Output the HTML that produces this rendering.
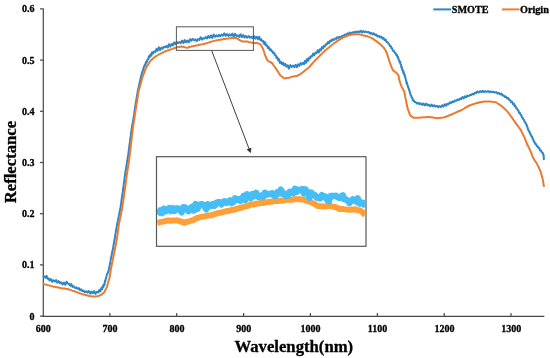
<!DOCTYPE html>
<html><head><meta charset="utf-8"><style>
html,body{margin:0;padding:0;background:#fff;}
body{width:550px;height:358px;overflow:hidden;}
svg{display:block;}
text{font-family:"Liberation Serif","Times New Roman",serif;font-weight:bold;fill:#000;stroke:#000;stroke-width:0.3px;}
</style></head><body>
<svg width="550" height="358" viewBox="0 0 550 358">
<defs><clipPath id="ic"><rect x="157" y="157" width="208.6" height="88.8"/></clipPath></defs>
<rect width="550" height="358" fill="#fff"/>
<g stroke="#474747" stroke-width="1.2" fill="none">
<line x1="43.3" y1="8.5" x2="43.3" y2="316.9"/>
<line x1="42.7" y1="316.3" x2="544.3" y2="316.3"/>
<line x1="40" y1="316.1" x2="43.3" y2="316.1"/><line x1="40" y1="264.9" x2="43.3" y2="264.9"/><line x1="40" y1="213.7" x2="43.3" y2="213.7"/><line x1="40" y1="162.5" x2="43.3" y2="162.5"/><line x1="40" y1="111.3" x2="43.3" y2="111.3"/><line x1="40" y1="60.1" x2="43.3" y2="60.1"/><line x1="40" y1="8.9" x2="43.3" y2="8.9"/>
<line x1="109.9" y1="313" x2="109.9" y2="316.3"/><line x1="176.7" y1="313" x2="176.7" y2="316.3"/><line x1="243.6" y1="313" x2="243.6" y2="316.3"/><line x1="310.4" y1="313" x2="310.4" y2="316.3"/><line x1="377.3" y1="313" x2="377.3" y2="316.3"/><line x1="444.2" y1="313" x2="444.2" y2="316.3"/><line x1="511.0" y1="313" x2="511.0" y2="316.3"/>
</g>
<g font-size="10"><text x="34.6" y="319.5" text-anchor="end">0</text><text x="34.6" y="268.3" text-anchor="end">0.1</text><text x="34.6" y="217.1" text-anchor="end">0.2</text><text x="34.6" y="165.9" text-anchor="end">0.3</text><text x="34.6" y="114.7" text-anchor="end">0.4</text><text x="34.6" y="63.5" text-anchor="end">0.5</text><text x="34.6" y="12.3" text-anchor="end">0.6</text><text x="43.2" y="331.5" text-anchor="middle">600</text><text x="110.1" y="331.5" text-anchor="middle">700</text><text x="176.9" y="331.5" text-anchor="middle">800</text><text x="243.8" y="331.5" text-anchor="middle">900</text><text x="310.6" y="331.5" text-anchor="middle">1000</text><text x="377.5" y="331.5" text-anchor="middle">1100</text><text x="444.4" y="331.5" text-anchor="middle">1200</text><text x="511.2" y="331.5" text-anchor="middle">1300</text></g>
<text x="0" y="0" font-size="16.7" transform="translate(16.2,203.3) rotate(-90)">Reflectance</text>
<text x="293.8" y="351.9" font-size="16.7" text-anchor="middle">Wavelength(nm)</text>
<path d="M43.0,277.0 L44.3,276.2 L45.6,277.8 L46.6,275.9 L47.5,278.8 L48.4,278.3 L49.6,280.5 L50.9,279.0 L52.2,281.7 L53.5,280.3 L54.8,281.5 L56.1,280.1 L57.4,282.7 L58.7,281.0 L60.0,283.1 L61.3,282.2 L62.6,284.4 L63.9,282.6 L65.3,284.8 L66.6,281.7 L67.9,283.8 L69.1,283.7 L70.2,285.8 L71.3,284.0 L72.5,286.9 L73.8,286.2 L75.0,288.0 L76.3,287.3 L77.5,288.8 L78.8,288.0 L80.0,290.3 L81.2,289.4 L82.4,291.2 L83.6,290.6 L84.9,292.3 L86.2,291.2 L87.5,292.6 L88.8,291.0 L90.2,293.6 L91.5,291.6 L92.9,293.3 L94.2,291.1 L95.5,293.9 L96.8,291.7 L98.2,292.5 L99.3,289.9 L100.3,291.5 L101.4,287.9 L102.2,289.2 L102.8,285.8 L103.4,287.1 L104.0,284.2 L104.6,284.6 L104.9,280.8 L105.3,281.6 L105.6,279.2 L106.0,278.8 L106.3,276.8 L106.6,276.0 L107.1,273.8 L107.6,273.6 L108.1,271.7 L108.5,271.1 L108.9,268.8 L109.2,268.6 L109.4,266.4 L109.7,265.8 L109.9,263.7 L110.2,263.4 L110.4,261.0 L110.6,260.5 L110.9,258.4 L111.2,257.7 L111.4,255.9 L111.7,255.4 L112.0,252.7 L112.2,252.6 L112.5,250.5 L112.8,249.8 L113.1,247.8 L113.3,247.7 L113.5,244.9 L113.8,244.7 L114.0,242.2 L114.2,241.8 L114.4,239.8 L114.7,239.6 L114.9,237.1 L115.1,236.6 L115.3,234.6 L115.6,234.0 L115.8,231.5 L116.0,231.1 L116.2,229.0 L116.5,228.9 L116.7,226.2 L116.9,226.2 L117.2,223.6 L117.4,223.4 L117.7,221.2 L118.0,220.6 L118.2,218.8 L118.5,218.3 L118.8,215.9 L119.0,215.2 L119.3,213.3 L119.6,212.7 L119.8,210.7 L120.1,210.0 L120.4,207.9 L120.6,207.5 L120.8,205.2 L121.0,204.8 L121.2,202.8 L121.4,202.0 L121.5,200.1 L121.7,199.5 L121.9,197.0 L122.1,197.0 L122.3,194.4 L122.5,194.3 L122.7,192.1 L122.9,191.7 L123.1,189.1 L123.2,188.5 L123.4,186.8 L123.6,185.9 L123.8,183.7 L123.9,183.3 L124.1,181.4 L124.3,180.8 L124.5,178.6 L124.7,177.8 L124.8,176.0 L125.0,175.4 L125.2,173.4 L125.4,172.6 L125.6,170.4 L125.9,170.0 L126.1,168.0 L126.3,167.3 L126.5,165.4 L126.7,164.6 L126.9,162.6 L127.1,161.9 L127.3,160.1 L127.6,159.7 L127.8,157.2 L128.0,156.5 L128.2,154.5 L128.4,154.3 L128.5,152.1 L128.7,151.1 L128.9,149.4 L129.1,148.8 L129.2,146.7 L129.4,146.1 L129.6,143.7 L129.8,143.3 L130.0,141.3 L130.1,141.0 L130.3,138.3 L130.5,138.0 L130.7,135.9 L130.9,135.4 L131.0,133.2 L131.2,132.7 L131.4,130.6 L131.6,130.0 L131.7,128.0 L132.0,127.1 L132.2,124.8 L132.4,124.9 L132.7,122.6 L132.9,122.2 L133.2,119.9 L133.4,119.6 L133.6,117.0 L133.8,116.6 L134.0,114.6 L134.2,113.7 L134.4,111.5 L134.6,111.1 L134.8,108.9 L135.0,109.0 L135.2,106.4 L135.4,105.8 L135.6,103.5 L135.9,103.6 L136.1,101.0 L136.3,100.6 L136.5,98.5 L136.7,97.9 L136.9,95.9 L137.1,95.4 L137.4,93.2 L137.6,92.5 L137.8,90.7 L138.1,90.1 L138.4,87.9 L138.7,87.3 L139.0,85.3 L139.3,85.0 L139.6,82.3 L139.9,81.9 L140.2,80.1 L140.5,79.3 L140.8,76.9 L141.1,77.0 L141.4,74.8 L141.8,74.0 L142.2,72.0 L142.6,71.9 L143.1,69.2 L143.5,69.0 L143.9,66.7 L144.3,66.6 L144.8,64.4 L145.3,65.4 L146.0,61.8 L146.7,62.6 L147.4,59.7 L148.1,59.5 L148.9,56.2 L149.6,57.3 L150.5,54.3 L151.3,55.7 L152.2,52.1 L153.2,53.5 L154.3,51.3 L155.5,51.9 L156.6,48.9 L157.7,50.7 L158.8,47.2 L160.1,50.1 L161.4,47.6 L162.6,48.7 L163.9,46.8 L165.2,47.3 L166.5,45.9 L167.8,47.5 L169.0,44.2 L170.3,46.6 L171.6,44.0 L172.9,45.4 L174.2,42.4 L175.4,44.1 L176.7,41.9 L178.0,43.3 L179.4,42.1 L180.7,43.1 L182.1,40.6 L183.4,43.0 L184.7,40.1 L186.0,42.3 L187.3,40.5 L188.7,42.3 L190.0,39.2 L191.3,40.8 L192.6,38.9 L194.0,40.4 L195.3,39.3 L196.7,41.3 L198.0,39.1 L199.3,39.9 L200.7,37.3 L202.0,39.6 L203.3,38.1 L204.6,38.6 L205.8,37.0 L207.1,38.4 L208.3,36.0 L209.6,37.8 L210.9,35.4 L212.3,37.9 L213.6,34.6 L215.0,36.8 L216.3,35.3 L217.6,36.5 L219.0,34.9 L220.3,36.3 L221.6,34.6 L223.0,35.6 L224.3,33.3 L225.7,35.8 L227.0,34.0 L228.4,36.0 L229.7,34.4 L231.1,35.6 L232.4,33.5 L233.8,37.1 L235.1,33.7 L236.5,36.1 L237.8,35.2 L239.2,37.0 L240.5,34.2 L241.8,37.1 L243.2,35.0 L244.5,37.5 L245.9,35.9 L247.2,37.6 L248.6,36.1 L249.9,37.6 L251.2,36.7 L252.6,38.1 L253.9,35.8 L255.2,38.6 L256.6,36.7 L257.9,39.3 L259.2,36.7 L260.3,40.0 L261.3,39.4 L262.4,41.6 L263.5,41.1 L264.3,44.3 L265.2,42.3 L266.0,45.6 L266.9,45.2 L267.8,48.0 L268.7,46.9 L269.7,49.9 L270.6,49.2 L271.6,51.2 L272.5,51.2 L273.3,53.3 L274.2,52.9 L275.1,55.4 L275.9,55.5 L276.7,58.2 L277.5,57.5 L278.3,60.6 L279.1,59.4 L279.9,63.0 L280.8,61.8 L281.9,64.1 L282.9,62.6 L284.0,65.4 L285.2,63.8 L286.4,66.6 L287.7,65.2 L288.9,68.6 L290.3,65.1 L291.6,67.0 L292.9,65.6 L294.3,67.2 L295.6,64.8 L296.9,67.2 L298.1,64.4 L299.3,65.9 L300.5,63.1 L301.7,64.5 L302.9,62.7 L304.0,64.3 L305.2,60.6 L306.2,62.8 L307.3,58.8 L308.3,60.8 L309.4,57.4 L310.3,58.2 L311.3,55.9 L312.3,56.3 L313.2,53.5 L314.3,55.1 L315.4,52.7 L316.6,53.1 L317.7,50.2 L318.8,52.5 L319.9,49.2 L320.9,50.4 L322.0,47.0 L323.0,48.5 L323.9,45.9 L324.9,46.5 L325.9,44.2 L326.9,44.4 L328.0,42.0 L329.1,43.2 L330.2,40.5 L331.3,41.3 L332.4,39.3 L333.7,40.1 L334.9,38.5 L336.2,38.9 L337.4,37.2 L338.7,37.9 L339.9,36.6 L341.2,37.1 L342.4,35.7 L343.7,35.8 L345.0,34.5 L346.2,35.0 L347.5,33.4 L348.7,34.0 L350.0,32.5 L351.3,33.5 L352.6,32.2 L354.0,32.8 L355.3,31.6 L356.6,32.3 L358.0,31.4 L359.3,32.3 L360.7,30.7 L362.0,32.4 L363.4,31.1 L364.7,32.2 L366.0,31.6 L367.4,32.3 L368.7,31.9 L370.0,33.7 L371.3,32.9 L372.5,34.4 L373.8,33.3 L375.0,35.0 L376.3,34.5 L377.5,36.5 L378.8,35.8 L380.0,37.4 L381.2,36.6 L382.4,38.6 L383.5,37.9 L384.7,40.3 L385.6,39.5 L386.6,41.9 L387.5,42.0 L388.5,43.6 L389.2,44.0 L390.0,46.1 L390.7,45.9 L391.4,48.1 L392.1,48.3 L392.8,50.8 L393.7,50.7 L394.6,52.7 L395.4,52.9 L396.3,55.0 L397.1,55.0 L397.6,57.5 L398.1,57.0 L398.6,59.7 L399.1,60.0 L399.6,62.5 L400.1,61.7 L400.6,64.4 L401.0,64.5 L401.4,67.6 L401.9,67.1 L402.3,70.0 L402.8,69.9 L403.2,72.8 L403.7,71.8 L404.2,74.8 L404.7,74.6 L405.1,77.4 L405.5,77.7 L405.8,79.9 L406.1,80.4 L406.5,83.1 L406.8,82.2 L407.2,84.9 L407.7,85.2 L408.2,87.7 L408.7,88.1 L409.1,90.1 L409.5,90.5 L409.9,93.1 L410.3,93.2 L410.7,95.2 L411.1,95.6 L411.7,97.6 L412.3,97.8 L412.9,100.5 L413.5,100.0 L414.6,102.1 L415.7,102.1 L417.0,103.6 L418.3,102.8 L419.6,104.2 L420.9,103.4 L422.2,104.9 L423.5,103.5 L424.9,105.5 L426.2,103.6 L427.6,105.5 L428.9,104.5 L430.2,106.3 L431.6,104.6 L432.9,106.4 L434.2,105.4 L435.6,106.5 L436.9,105.8 L438.3,107.2 L439.6,106.0 L440.9,107.1 L442.2,105.2 L443.5,106.6 L444.8,104.2 L446.1,105.7 L447.3,103.7 L448.6,104.2 L449.8,102.4 L451.1,103.0 L452.4,101.5 L453.6,102.1 L454.9,100.5 L456.1,100.9 L457.4,99.5 L458.6,100.2 L459.9,98.6 L461.1,99.1 L462.4,97.1 L463.6,98.4 L464.9,96.4 L466.1,97.3 L467.4,95.6 L468.7,96.1 L470.0,94.9 L471.2,95.0 L472.5,93.7 L473.7,94.5 L475.0,92.5 L476.2,93.2 L477.5,91.4 L478.8,92.5 L480.2,91.1 L481.5,92.1 L482.8,90.8 L484.2,92.3 L485.5,91.2 L486.9,91.8 L488.2,91.1 L489.6,92.2 L490.9,91.5 L492.3,92.2 L493.6,91.7 L494.9,92.6 L496.3,92.1 L497.5,93.7 L498.8,92.8 L500.1,94.5 L501.4,93.5 L502.5,95.5 L503.7,95.2 L504.8,97.0 L506.0,96.5 L507.1,98.4 L508.2,98.0 L509.1,99.9 L510.1,99.9 L511.1,102.0 L512.0,101.6 L513.0,104.1 L513.9,103.6 L514.7,106.1 L515.4,105.8 L516.2,108.2 L516.9,108.4 L517.7,110.2 L518.4,110.4 L519.1,113.0 L519.9,112.8 L520.6,114.7 L521.3,114.9 L521.9,117.3 L522.6,117.5 L523.3,119.4 L524.0,119.8 L524.6,122.1 L525.3,122.2 L526.0,124.2 L526.6,124.4 L527.0,126.5 L527.5,127.1 L528.0,129.7 L528.4,129.5 L529.1,131.7 L529.7,131.9 L530.3,134.2 L530.9,134.6 L531.5,136.4 L532.1,136.5 L532.7,138.8 L533.3,139.5 L533.9,141.7 L534.5,141.7 L535.1,143.7 L535.9,143.9 L536.8,146.1 L537.6,146.2 L538.5,148.2 L539.3,148.0 L540.1,150.4 L541.0,150.4 L541.8,152.4 L542.6,152.6 L543.3,154.6 L543.6,155.1 L543.7,157.4 L543.8,157.3 L543.9,159.7 L544.0,160.1" fill="none" stroke="#2E86C6" stroke-width="2" stroke-linejoin="round"/>
<path d="M43.0,283.9 L44.9,284.4 L46.9,284.9 L48.8,285.4 L50.7,285.9 L52.7,286.4 L54.6,286.8 L56.6,287.2 L58.6,287.6 L60.5,288.0 L62.5,288.4 L64.5,288.6 L66.5,288.9 L68.4,289.3 L70.3,289.9 L72.2,290.6 L74.1,291.2 L75.9,291.9 L77.8,292.6 L79.7,293.2 L81.6,293.9 L83.5,294.5 L85.5,295.0 L87.4,295.5 L89.3,296.0 L91.3,296.3 L93.3,296.4 L95.3,296.5 L97.3,296.2 L99.2,295.7 L101.0,294.9 L102.6,293.7 L104.1,292.4 L105.1,290.6 L106.0,288.9 L106.9,287.1 L107.4,285.2 L108.0,283.2 L108.5,281.3 L109.1,279.4 L109.6,277.5 L109.9,275.5 L110.2,273.5 L110.5,271.5 L110.8,269.6 L111.2,267.6 L111.6,265.6 L112.0,263.7 L112.4,261.7 L112.8,259.8 L113.2,257.8 L113.6,255.8 L114.0,253.9 L114.4,251.9 L114.8,250.0 L115.2,248.0 L115.6,246.0 L115.9,244.1 L116.3,242.1 L116.6,240.1 L117.0,238.2 L117.3,236.2 L117.6,234.2 L117.8,232.2 L118.1,230.2 L118.4,228.3 L118.6,226.3 L118.9,224.3 L119.3,222.3 L119.7,220.4 L120.1,218.4 L120.5,216.5 L120.9,214.5 L121.3,212.5 L121.7,210.6 L122.1,208.6 L122.4,206.6 L122.7,204.7 L123.0,202.7 L123.3,200.7 L123.6,198.7 L123.9,196.7 L124.1,194.8 L124.4,192.8 L124.7,190.8 L125.0,188.8 L125.2,186.8 L125.5,184.9 L125.8,182.9 L126.0,180.9 L126.3,178.9 L126.5,176.9 L126.8,174.9 L127.1,173.0 L127.4,171.0 L127.7,169.0 L128.0,167.0 L128.3,165.1 L128.6,163.1 L128.9,161.1 L129.2,159.1 L129.5,157.1 L129.7,155.2 L130.0,153.2 L130.2,151.2 L130.4,149.2 L130.7,147.2 L130.9,145.2 L131.1,143.2 L131.3,141.3 L131.6,139.3 L131.8,137.3 L132.0,135.3 L132.3,133.3 L132.5,131.3 L132.7,129.3 L133.0,127.4 L133.3,125.4 L133.6,123.4 L133.9,121.4 L134.2,119.4 L134.5,117.5 L134.8,115.5 L135.1,113.5 L135.4,111.5 L135.7,109.6 L136.0,107.6 L136.3,105.6 L136.6,103.6 L137.0,101.7 L137.3,99.7 L137.6,97.7 L137.9,95.7 L138.2,93.8 L138.5,91.8 L139.0,89.8 L139.5,87.9 L140.0,86.0 L140.6,84.0 L141.1,82.1 L141.6,80.2 L142.1,78.2 L142.7,76.3 L143.4,74.5 L144.2,72.6 L144.9,70.8 L145.6,68.9 L146.5,67.1 L147.5,65.4 L148.6,63.7 L149.7,62.0 L150.8,60.3 L152.3,59.1 L153.8,57.8 L155.4,56.6 L157.1,55.5 L158.8,54.5 L160.6,53.6 L162.4,52.7 L164.2,51.8 L166.0,51.0 L167.9,50.4 L169.8,49.7 L171.7,49.1 L173.6,48.4 L175.5,47.8 L177.4,47.3 L179.4,46.9 L181.4,46.5 L183.3,46.8 L185.2,47.4 L187.1,47.9 L189.0,47.2 L190.9,46.6 L192.9,46.2 L194.8,45.8 L196.8,45.4 L198.7,45.0 L200.7,44.6 L202.7,44.2 L204.6,43.7 L206.5,43.2 L208.4,42.6 L210.3,42.0 L212.3,41.4 L214.2,40.9 L216.1,40.4 L218.1,40.1 L220.1,39.7 L222.0,39.4 L224.0,39.1 L226.0,38.8 L228.0,38.6 L230.0,38.3 L231.9,38.1 L233.9,38.0 L235.9,37.9 L237.7,38.8 L239.3,39.9 L241.0,41.0 L242.9,41.5 L244.9,41.5 L246.9,41.6 L248.8,42.0 L250.8,42.4 L252.7,42.7 L254.7,42.9 L256.7,42.9 L258.6,43.5 L260.4,44.3 L261.5,45.9 L262.4,47.7 L263.3,49.5 L263.9,51.4 L264.5,53.3 L265.1,55.2 L265.9,57.0 L266.7,58.9 L267.5,60.7 L269.2,61.6 L271.0,62.4 L272.5,63.6 L273.6,65.3 L274.8,66.9 L275.9,68.5 L277.0,70.2 L278.1,71.9 L279.1,73.6 L280.2,75.3 L281.8,76.5 L283.3,77.8 L285.0,78.5 L287.0,78.1 L289.0,77.7 L290.9,77.1 L292.8,76.6 L294.8,76.3 L296.8,76.1 L298.5,75.1 L300.2,74.1 L301.9,73.0 L303.5,71.7 L305.0,70.5 L306.6,69.3 L308.1,68.0 L309.7,66.7 L310.9,65.2 L312.2,63.6 L313.5,62.1 L314.9,60.7 L316.3,59.3 L317.7,57.9 L319.2,56.4 L320.6,55.0 L322.0,53.6 L323.4,52.2 L324.9,50.8 L326.3,49.5 L327.9,48.2 L329.5,47.0 L331.0,45.8 L332.6,44.5 L334.2,43.3 L335.8,42.1 L337.4,40.9 L339.1,39.9 L340.8,38.9 L342.6,37.8 L344.4,37.0 L346.2,36.2 L348.1,35.5 L350.0,34.9 L352.0,34.6 L353.9,34.4 L355.9,34.3 L357.9,34.3 L359.9,34.4 L361.9,35.0 L363.8,35.5 L365.7,35.9 L367.7,36.3 L369.5,37.1 L371.4,37.9 L373.1,38.9 L374.7,40.1 L376.4,41.2 L377.9,42.4 L379.5,43.7 L381.0,45.0 L382.4,46.4 L383.8,47.8 L385.0,49.4 L385.9,51.2 L386.8,53.0 L387.4,54.9 L388.0,56.8 L388.6,58.7 L389.1,60.6 L389.8,62.5 L390.5,64.4 L391.3,66.3 L392.0,68.1 L392.8,70.0 L394.2,71.3 L395.8,72.4 L397.3,73.9 L398.5,75.4 L398.8,77.3 L399.1,79.3 L399.7,81.2 L400.3,83.1 L401.0,85.0 L401.7,86.9 L402.7,88.6 L403.6,90.4 L404.4,92.2 L404.8,94.2 L405.1,96.2 L405.5,98.1 L405.9,100.1 L406.3,102.0 L406.7,104.0 L407.1,106.0 L407.5,107.9 L408.1,109.8 L408.8,111.7 L409.5,113.6 L410.2,115.4 L411.8,116.6 L413.5,117.8 L415.4,117.8 L417.4,117.8 L419.4,117.7 L421.4,117.5 L423.4,117.3 L425.4,117.2 L427.4,117.0 L429.4,117.1 L431.4,117.3 L433.4,117.6 L435.3,118.1 L437.3,118.2 L439.3,117.9 L441.2,117.7 L443.2,117.5 L445.2,117.0 L447.0,116.3 L448.9,115.5 L450.7,114.8 L452.6,114.0 L454.4,113.2 L456.2,112.3 L458.0,111.5 L459.9,110.8 L461.7,110.0 L463.4,109.0 L465.1,107.9 L466.9,106.9 L468.6,106.0 L470.4,105.1 L472.3,104.5 L474.2,103.9 L476.2,103.3 L478.1,102.8 L480.0,102.3 L482.0,101.9 L483.9,101.5 L485.9,101.5 L487.9,101.5 L489.9,101.5 L491.9,101.7 L493.9,101.9 L495.9,102.2 L497.5,103.3 L499.2,104.4 L500.9,105.5 L502.4,106.7 L503.9,108.1 L505.3,109.5 L506.7,110.9 L508.1,112.4 L509.3,114.0 L510.4,115.6 L511.6,117.2 L512.8,118.9 L513.9,120.5 L515.1,122.1 L516.3,123.8 L517.4,125.4 L518.6,127.0 L519.7,128.7 L520.9,130.3 L521.8,132.1 L522.7,133.8 L523.6,135.6 L524.5,137.4 L525.2,139.3 L525.9,141.2 L526.6,143.0 L527.4,144.8 L528.3,146.6 L529.2,148.4 L530.1,150.2 L530.9,152.1 L531.6,153.9 L532.3,155.8 L533.1,157.6 L534.0,159.4 L535.1,161.0 L536.3,162.7 L537.3,164.4 L538.1,166.2 L539.0,168.0 L539.9,169.8 L540.6,171.7 L541.1,173.6 L541.7,175.5 L542.3,177.4 L542.7,179.4 L543.1,181.4 L543.4,183.3 L543.7,185.3 L544.0,186.9" fill="none" stroke="#EA7A2F" stroke-width="2" stroke-linejoin="round"/>
<rect x="176.4" y="26.8" width="77" height="23.6" fill="none" stroke="#595959" stroke-width="1"/>
<line x1="211.6" y1="50.4" x2="249" y2="148.7" stroke="#404040" stroke-width="1"/>
<polygon points="250.5,152.6 247.1,149.6 251,148.1" fill="#262626" stroke="#262626" stroke-width="0.6"/>
<rect x="156.5" y="156.7" width="209.5" height="89.6" fill="#fff" stroke="#595959" stroke-width="1.2"/>
<path d="M157.2,223.0 L159.2,222.4 L161.1,221.9 L163.1,221.6 L165.0,221.1 L167.0,220.6 L169.0,220.6 L170.9,220.7 L172.9,220.5 L174.9,220.6 L176.9,220.3 L178.9,221.0 L180.8,221.5 L182.6,222.1 L184.5,222.8 L186.3,222.0 L188.2,221.7 L190.1,221.0 L192.0,220.4 L193.9,219.8 L195.7,218.6 L197.6,217.9 L199.4,217.3 L201.3,216.8 L203.3,216.6 L205.3,216.3 L207.2,215.5 L209.2,215.5 L211.2,215.3 L213.1,214.7 L215.0,213.9 L217.0,213.5 L218.9,212.8 L220.8,212.8 L222.8,212.2 L224.7,211.6 L226.7,211.0 L228.6,210.9 L230.6,210.3 L232.5,210.1 L234.5,209.6 L236.4,208.9 L238.3,208.3 L240.3,208.0 L242.2,207.4 L244.2,206.7 L246.1,206.2 L248.0,205.9 L249.9,204.8 L251.8,204.4 L253.8,204.4 L255.7,203.8 L257.7,203.6 L259.7,203.2 L261.7,202.7 L263.6,202.9 L265.6,202.2 L267.6,202.0 L269.6,201.7 L271.6,201.7 L273.6,201.3 L275.6,201.1 L277.5,201.1 L279.5,200.7 L281.5,200.6 L283.5,200.7 L285.5,200.0 L287.5,199.8 L289.5,199.7 L291.5,199.8 L293.5,199.5 L295.5,199.1 L297.5,199.2 L299.5,199.1 L301.4,199.4 L303.4,199.5 L305.4,200.2 L307.3,200.9 L309.2,201.6 L311.0,202.2 L312.8,203.3 L314.5,203.8 L316.2,205.0 L318.0,206.1 L320.0,206.2 L322.0,206.2 L324.0,206.6 L326.0,206.2 L328.0,206.1 L329.9,205.9 L331.9,206.3 L333.9,206.8 L335.8,207.2 L337.6,208.0 L339.5,209.0 L341.5,209.0 L343.5,209.1 L345.5,209.4 L347.5,209.5 L349.5,209.9 L351.5,209.5 L353.5,209.4 L355.4,209.2 L357.4,210.2 L359.4,210.3 L361.0,211.1 L362.5,212.3 L364.0,213.7 L365.4,215.2 L365.5,215.5" fill="none" stroke="#FF9F37" stroke-width="6" clip-path="url(#ic)" stroke-linejoin="round"/>
<path d="M157.2,214.3 L158.8,212.3 L160.4,210.4 L162.1,213.0 L163.8,208.8 L165.5,211.3 L167.3,210.1 L169.1,208.2 L170.9,211.1 L172.7,208.2 L174.5,210.8 L176.3,208.5 L178.1,208.5 L179.8,210.1 L181.6,212.2 L183.3,207.3 L185.0,207.4 L186.8,209.5 L188.5,211.1 L190.3,208.4 L192.0,206.9 L193.8,210.4 L195.6,204.1 L197.4,209.0 L199.1,205.0 L200.9,204.2 L202.7,204.4 L204.4,206.0 L206.2,209.2 L207.8,204.3 L209.4,206.1 L211.1,205.8 L212.8,204.2 L214.6,205.7 L216.4,202.8 L218.0,202.2 L219.6,202.3 L221.2,204.4 L222.8,202.1 L224.6,201.3 L226.4,202.9 L228.2,201.9 L229.9,200.4 L231.6,203.1 L233.3,202.0 L235.0,198.5 L236.7,200.0 L238.4,199.1 L240.2,200.8 L241.9,199.3 L243.6,196.0 L245.3,200.0 L247.1,194.4 L248.9,196.2 L250.7,198.2 L252.5,194.1 L254.3,196.0 L256.1,192.9 L257.9,196.7 L259.7,197.0 L261.4,195.5 L263.1,196.9 L264.9,192.8 L266.6,194.7 L268.4,194.1 L270.2,194.1 L272.0,193.4 L273.7,195.5 L275.5,195.8 L277.2,192.3 L279.0,193.4 L280.8,189.6 L282.6,193.8 L284.4,193.6 L286.2,196.0 L288.0,195.1 L289.7,191.7 L291.5,191.9 L293.2,193.2 L295.0,188.8 L296.8,191.7 L298.6,190.0 L300.4,189.8 L302.1,189.2 L303.9,193.4 L305.5,189.4 L306.9,191.4 L308.2,193.5 L309.5,197.8 L311.3,192.5 L313.1,194.7 L314.9,195.1 L316.7,197.6 L318.4,197.7 L320.1,198.4 L321.9,195.1 L323.6,196.4 L325.4,196.4 L327.2,200.1 L328.9,201.0 L330.7,196.1 L332.5,196.0 L334.2,196.1 L336.0,195.8 L337.8,197.3 L339.6,198.0 L341.3,196.2 L342.8,195.5 L344.3,199.2 L345.9,199.4 L347.7,200.6 L349.5,202.9 L351.2,200.9 L353.0,199.3 L354.6,200.2 L356.2,201.5 L357.7,198.4 L359.5,203.5 L361.2,202.3 L362.6,203.4 L363.6,204.4 L364.7,203.3 L365.2,204.8" fill="none" stroke="#45BEF5" stroke-width="6.5" clip-path="url(#ic)" stroke-linejoin="round"/>
<line x1="433.3" y1="9.4" x2="451.2" y2="9.4" stroke="#2E86C6" stroke-width="2"/>
<text x="451.8" y="12.5" font-size="10.2">SMOTE</text>
<line x1="502" y1="9.4" x2="519.5" y2="9.4" stroke="#ED7D31" stroke-width="2"/>
<text x="520" y="12.5" font-size="10.2">Origin</text>
</svg>
</body></html>
